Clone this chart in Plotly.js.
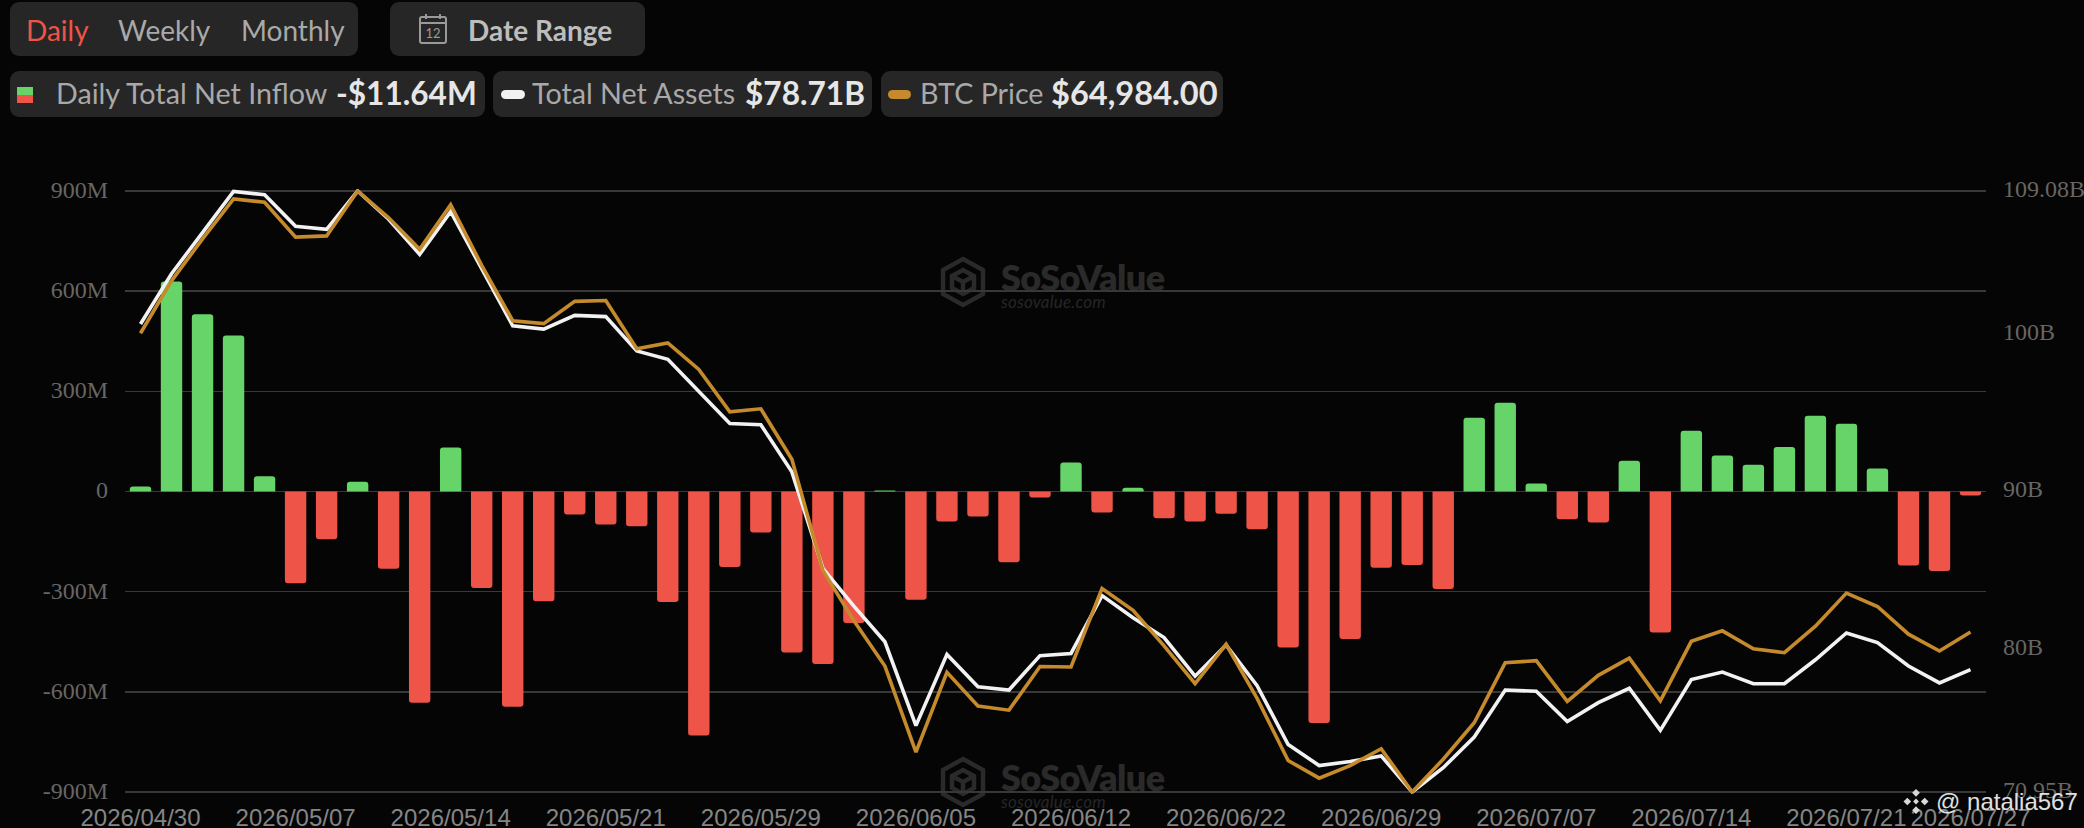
<!DOCTYPE html>
<html><head><meta charset="utf-8">
<script src="https://cdn.plot.ly/plotly-3.0.1.min.js"></script>
<style>
html,body{margin:0;padding:0;background:#050505;width:2084px;height:828px;overflow:hidden;font-family:Lato,sans-serif}
.abs{position:absolute;white-space:nowrap}
.panel{position:absolute;background:#262626;border-radius:9px}
.t{position:absolute;white-space:nowrap;color:#a9a9a9;font-size:28px;line-height:34px;font-family:Lato,sans-serif}
.b{color:#e6e6e6;font-weight:700}
.l2{font-size:28.7px;top:76px}
.v2{font-size:31.6px;top:76px}
#chart{position:absolute;left:0;top:0;width:2084px;height:828px;z-index:2}
.wm{position:absolute;z-index:1;width:240px;height:60px}
.wmt{position:absolute;left:61px;top:2px;font:800 36px/38px Lato,sans-serif;color:#2a2a2a;letter-spacing:-.6px}
.wms{position:absolute;left:61px;top:36px;font:italic 400 17px/20px Lato,sans-serif;color:#262626;letter-spacing:.2px}
</style></head><body>

<div class="panel" style="left:10px;top:2px;width:348px;height:54px"></div>
<div class="t" style="left:26px;top:13px;color:#ee5548">Daily</div>
<div class="t" style="left:118px;top:13px">Weekly</div>
<div class="t" style="left:241px;top:13px">Monthly</div>
<div class="panel" style="left:390px;top:2px;width:255px;height:54px"></div>
<svg class="abs" style="left:418px;top:12px" width="30" height="33" viewBox="0 0 30 33" fill="none" stroke="#9a9a9a" stroke-width="2"><rect x="2" y="5" width="26" height="26" rx="2"/><path d="M2 11H28M8 2V7M22 2V7"/><text x="15" y="26" text-anchor="middle" fill="#9a9a9a" stroke="none" font-size="13" font-family="Lato">12</text></svg>
<div class="t b" style="left:468px;top:13px;color:#bdbdbd">Date Range</div>

<div class="panel" style="left:10px;top:71px;width:475px;height:46px"></div>
<div class="abs" style="left:17px;top:87px;width:16px;height:8px;background:#66d468"></div>
<div class="abs" style="left:17px;top:95px;width:16px;height:8px;background:#ee5548"></div>
<div class="t l2" style="left:56px">Daily Total Net Inflow</div>
<div class="t b v2" style="left:336px">-$11.64M</div>
<div class="panel" style="left:493px;top:71px;width:379px;height:46px"></div>
<div class="abs" style="left:501px;top:90px;width:24px;height:9px;background:#f2f2f2;border-radius:5px"></div>
<div class="t l2" style="left:532px">Total Net Assets</div>
<div class="t b v2" style="left:745px">$78.71B</div>
<div class="panel" style="left:881px;top:71px;width:342px;height:46px"></div>
<div class="abs" style="left:888px;top:90px;width:23px;height:9px;background:#c48a2c;border-radius:5px"></div>
<div class="t l2" style="left:920px">BTC Price</div>
<div class="t b v2" style="left:1051px;font-size:32.6px">$64,984.00</div>

<div class="wm" style="left:940px;top:256px" id="wm1"></div>
<div class="wm" style="left:940px;top:756px" id="wm2"></div>
<div id="chart"></div>

<svg class="abs" style="left:1902px;top:788px;z-index:3" width="28" height="27" viewBox="-14 -14 28 28" fill="#d8d8d8"><path d="M0 -13L4 -9L0 -5L-4 -9Z M-9 -4L-5 0L-9 4L-13 0Z M9 -4L13 0L9 4L5 0Z M0 5L4 9L0 13L-4 9Z M0 -3L3 0L0 3L-3 0Z"/></svg>
<div class="abs" style="left:1936px;top:785px;z-index:3;color:#e0e0e0;font:400 24px/34px 'Liberation Sans',sans-serif">@ natalia567</div>

<script>
const dates=["2026/04/30","2026/05/01","2026/05/04","2026/05/05","2026/05/06","2026/05/07","2026/05/08","2026/05/11","2026/05/12","2026/05/13","2026/05/14","2026/05/15","2026/05/18","2026/05/19","2026/05/20","2026/05/21","2026/05/22","2026/05/26","2026/05/27","2026/05/28","2026/05/29","2026/06/01","2026/06/02","2026/06/03","2026/06/04","2026/06/05","2026/06/08","2026/06/09","2026/06/10","2026/06/11","2026/06/12","2026/06/15","2026/06/16","2026/06/17","2026/06/18","2026/06/22","2026/06/23","2026/06/24","2026/06/25","2026/06/26","2026/06/29","2026/06/30","2026/07/01","2026/07/02","2026/07/06","2026/07/07","2026/07/08","2026/07/09","2026/07/10","2026/07/13","2026/07/14","2026/07/15","2026/07/16","2026/07/17","2026/07/20","2026/07/21","2026/07/22","2026/07/23","2026/07/24","2026/07/27"];
const xTicks=["2026/04/30","2026/05/07","2026/05/14","2026/05/21","2026/05/29","2026/06/05","2026/06/12","2026/06/22","2026/06/29","2026/07/07","2026/07/14","2026/07/21","2026/07/27"];
const inflowM=[15,629,531,467,46,-275,-143,29,-231,-633,132,-289,-645,-329,-69,-99,-104,-331,-731,-226,-123,-482,-517,-394,3,-324,-90,-75,-212,-18,87,-63,11,-80,-90,-67,-113,-467,-693,-442,-228,-220,-292,221,266,24,-83,-93,92,-422,182,108,80,133,227,203,69,-222,-238,-11.64];
const assetsB=[100.64,103.83,106.44,109.05,108.84,106.84,106.65,109.08,107.29,105.06,107.77,104.18,100.53,100.32,101.19,101.11,98.93,98.40,96.40,94.33,94.25,91.26,85.14,82.74,80.48,75.16,79.68,77.63,77.42,79.60,79.74,83.41,82.00,80.75,78.30,80.27,77.69,73.96,72.63,72.89,73.24,70.95,72.49,74.44,77.42,77.34,75.42,76.62,77.53,74.86,78.09,78.56,77.82,77.82,79.34,81.04,80.43,78.94,77.87,78.71];
const btcPrice=[79898,82517,84612,86602,86435,84696,84759,87000,85660,84088,86309,83292,80527,80380,81491,81532,79123,79417,78097,75981,76127,73613,68062,65548,63285,58990,62971,61295,61085,63264,63243,67161,66071,64291,62405,64374,61672,58571,57691,58320,59158,57000,58634,60457,63453,63557,61525,62824,63683,61546,64521,65045,64144,63955,65275,66930,66260,64877,64039,64984];
const leftTicks=[-900,-600,-300,0,300,600,900];
const leftLabels=["-900M","-600M","-300M","0","300M","600M","900M"];
const rightTicks=[70.95,80,90,100,109.08];
const rightLabels=["70.95B","80B","90B","100B","109.08B"];

const GREEN="#66d468",RED="#ee5548";
const traces=[
 {type:"bar",x:dates,y:inflowM,marker:{color:inflowM.map(v=>v>=0?GREEN:RED),line:{width:0}},yaxis:"y",name:"Daily Total Net Inflow"},
 {type:"scatter",mode:"lines",x:dates,y:assetsB,yaxis:"y2",line:{color:"#f2f2f2",width:3.6},name:"Total Net Assets"},
 {type:"scatter",mode:"lines",x:dates,y:btcPrice,yaxis:"y3",line:{color:"#c48a2c",width:3.6},name:"BTC Price"}
];
const serif={family:"Liberation Serif, serif",size:24,color:"#666666"};
// Ranges carry a small pad beyond +/-900M so the outermost gridlines are drawn.
const pad=6/1800;
const layout={
 width:2084,height:828,showlegend:false,
 paper_bgcolor:"rgba(0,0,0,0)",plot_bgcolor:"rgba(0,0,0,0)",
 margin:{l:125,r:98,t:189.4,b:33.7,pad:0},
 bargap:0.31,barcornerradius:3,
 xaxis:{type:"category",categoryorder:"array",categoryarray:dates,range:[-0.5,59.5],tickmode:"array",tickvals:xTicks,ticktext:xTicks,tickangle:0,
   tickfont:{family:"Liberation Sans, sans-serif",size:24,color:"#858585"},showgrid:false,zeroline:false,showline:false,ticks:"",ticklabeloverflow:"allow",ticklabelstandoff:7},
 yaxis:{range:[-906,906],tickmode:"array",tickvals:leftTicks,ticktext:leftLabels,tickfont:serif,gridcolor:"#383838",gridwidth:1.6,zeroline:true,zerolinecolor:"#383838",zerolinewidth:1.6,showline:false,ticks:"",ticklabelstandoff:16},
 yaxis2:{overlaying:"y",side:"right",range:[70.95-38.13*pad,109.08+38.13*pad],tickmode:"array",tickvals:rightTicks,ticktext:rightLabels,tickfont:serif,showgrid:false,zeroline:false,showline:false,ticks:"",ticklabelstandoff:16},
 yaxis3:{overlaying:"y",side:"right",range:[57000-30000*pad,87000+30000*pad],visible:false,showgrid:false,zeroline:false}
};
Plotly.newPlot("chart",traces,layout,{displayModeBar:false,staticPlot:true}).then(()=>{
 document.querySelectorAll(".ytick text").forEach(t=>t.setAttribute("dy","-1.5"));
 document.querySelectorAll(".y2tick text").forEach(t=>t.setAttribute("dy","-2.7"));
});

const logo='<svg width="46" height="52" viewBox="0 0 46 52" fill="none" stroke="#2a2a2a" stroke-width="4.5" style="position:absolute;left:0;top:0"><path d="M23 3L43 14V38L23 49L3 38V14Z"/><path d="M12 20L23 14L34 20V32L23 38L12 32Z M23 26V38 M12 20L23 26L34 20"/></svg>';
for(const id of ["wm1","wm2"]) document.getElementById(id).innerHTML=logo+'<div class="wmt">SoSoValue</div><div class="wms">sosovalue.com</div>';
</script>
</body></html>
